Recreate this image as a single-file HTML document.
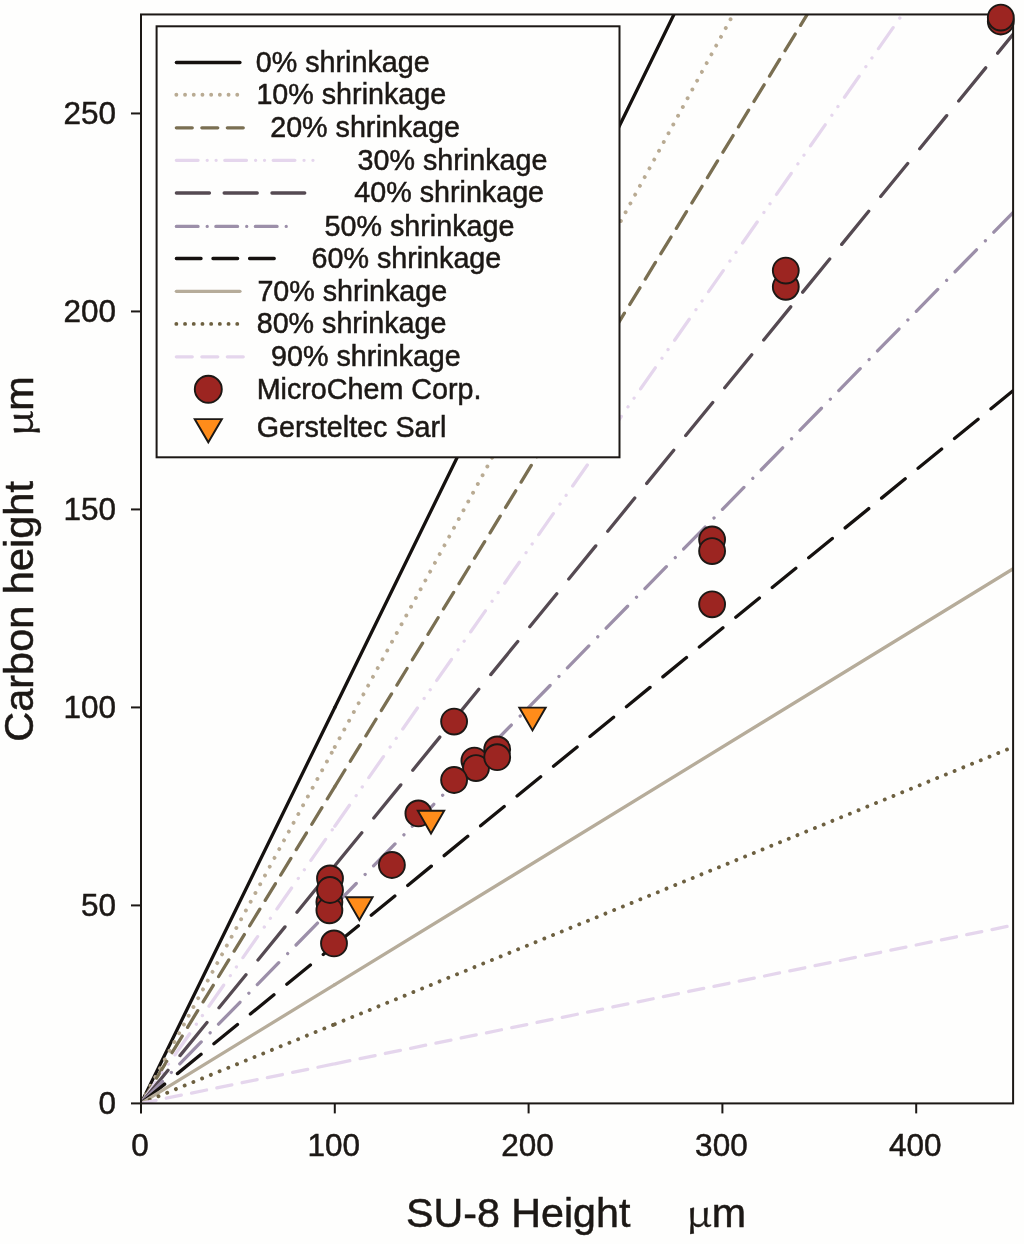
<!DOCTYPE html>
<html lang="en"><head><meta charset="utf-8"><title>Carbon height vs SU-8 height</title>
<style>html,body{margin:0;padding:0;background:#fefefd}body{width:1024px;height:1244px;overflow:hidden}svg{display:block}text{font-family:"Liberation Sans", sans-serif;fill:#1c1815;stroke:#1c1815;stroke-width:0.5px}.mu{font-family:"Noto Serif CJK SC","Liberation Serif",serif;font-size:40px}</style></head><body>
<svg width="1024" height="1244" viewBox="0 0 1024 1244">
<rect width="1024" height="1244" fill="#fefefd"/>
<defs><clipPath id="plot"><rect x="141.00" y="14.45" width="872.10" height="1088.95"/></clipPath></defs>
<g clip-path="url(#plot)" fill="none" stroke-width="3.3" stroke-linecap="round">
<line x1="141.00" y1="1103.40" x2="334.80" y2="707.42" stroke="#15110f"/>
<line x1="334.80" y1="707.42" x2="684.61" y2="-7.33" stroke="#15110f"/>
<line x1="141.00" y1="1103.40" x2="334.80" y2="747.02" stroke="#b9ab93" stroke-width="3.9" stroke-dasharray="0.01 9.97"/>
<line x1="334.80" y1="747.02" x2="745.01" y2="-7.33" stroke="#b9ab93" stroke-width="3.9" stroke-dasharray="0.01 9.97"/>
<line x1="141.00" y1="1103.40" x2="334.80" y2="786.61" stroke="#7a6f52" stroke-dasharray="19.46 10.29"/>
<line x1="334.80" y1="786.61" x2="820.51" y2="-7.33" stroke="#7a6f52" stroke-dasharray="19.46 10.29"/>
<line x1="141.00" y1="1103.40" x2="334.80" y2="826.21" stroke="#e5d6ed" stroke-dasharray="25.60 11.70 0.01 10.60 0.01 11.38"/>
<line x1="334.80" y1="826.21" x2="917.58" y2="-7.33" stroke="#e5d6ed" stroke-dasharray="25.60 11.70 0.01 10.60 0.01 11.38"/>
<line x1="141.00" y1="1103.40" x2="334.80" y2="865.81" stroke="#554a52" stroke-dasharray="42.72 18.97"/>
<line x1="334.80" y1="865.81" x2="1030.54" y2="12.87" stroke="#554a52" stroke-dasharray="42.72 18.97"/>
<line x1="141.00" y1="1103.40" x2="334.80" y2="905.41" stroke="#9c8fa9" stroke-dasharray="30.65 12.73 0.01 12.03"/>
<line x1="334.80" y1="905.41" x2="1030.54" y2="194.62" stroke="#9c8fa9" stroke-dasharray="30.65 12.73 0.01 12.03"/>
<line x1="141.00" y1="1103.40" x2="334.80" y2="945.01" stroke="#15110f" stroke-dasharray="30.48 16.60"/>
<line x1="334.80" y1="945.01" x2="1030.54" y2="376.38" stroke="#15110f" stroke-dasharray="30.48 16.60"/>
<line x1="141.00" y1="1103.40" x2="334.80" y2="984.61" stroke="#b6ac9a"/>
<line x1="334.80" y1="984.61" x2="1030.54" y2="558.13" stroke="#b6ac9a"/>
<line x1="141.00" y1="1103.40" x2="334.80" y2="1024.20" stroke="#6d6040" stroke-width="3.9" stroke-dasharray="0.01 9.42"/>
<line x1="334.80" y1="1024.20" x2="1030.54" y2="739.89" stroke="#6d6040" stroke-width="3.9" stroke-dasharray="0.01 9.42"/>
<line x1="141.00" y1="1103.40" x2="334.80" y2="1063.80" stroke="#e5d6ed" stroke-dasharray="15.31 10.49"/>
<line x1="334.80" y1="1063.80" x2="1030.54" y2="921.64" stroke="#e5d6ed" stroke-dasharray="15.31 10.49"/>
</g>
<rect x="141.00" y="14.45" width="872.10" height="1088.95" fill="none" stroke="#1c1815" stroke-width="2"/>
<g stroke="#1c1815" stroke-width="2">
<line x1="131.00" y1="1103.40" x2="141.00" y2="1103.40"/>
<line x1="131.00" y1="905.41" x2="141.00" y2="905.41"/>
<line x1="131.00" y1="707.42" x2="141.00" y2="707.42"/>
<line x1="131.00" y1="509.43" x2="141.00" y2="509.43"/>
<line x1="131.00" y1="311.44" x2="141.00" y2="311.44"/>
<line x1="131.00" y1="113.45" x2="141.00" y2="113.45"/>
<line x1="141.00" y1="1103.40" x2="141.00" y2="1113.40"/>
<line x1="334.80" y1="1103.40" x2="334.80" y2="1113.40"/>
<line x1="528.60" y1="1103.40" x2="528.60" y2="1113.40"/>
<line x1="722.40" y1="1103.40" x2="722.40" y2="1113.40"/>
<line x1="916.20" y1="1103.40" x2="916.20" y2="1113.40"/>
</g>
<g font-size="31.5">
<text x="116.00" y="1113.60" text-anchor="end">0</text>
<text x="116.00" y="915.61" text-anchor="end">50</text>
<text x="116.00" y="717.62" text-anchor="end">100</text>
<text x="116.00" y="519.63" text-anchor="end">150</text>
<text x="116.00" y="321.64" text-anchor="end">200</text>
<text x="116.00" y="123.65" text-anchor="end">250</text>
<text x="140.00" y="1155.80" text-anchor="middle">0</text>
<text x="333.80" y="1155.80" text-anchor="middle">100</text>
<text x="527.60" y="1155.80" text-anchor="middle">200</text>
<text x="721.40" y="1155.80" text-anchor="middle">300</text>
<text x="915.20" y="1155.80" text-anchor="middle">400</text>
</g>
<text font-size="41.2" x="406" y="1227" xml:space="preserve">SU-8 Height</text>
<text class="mu" transform="translate(686.3,1227) scale(1.03,0.9)">μ</text>
<text font-size="41.2" x="711.7" y="1227">m</text>
<text font-size="41.5" transform="translate(32.6,741.8) rotate(-90)">Carbon height</text>
<text class="mu" transform="translate(32.6,436.2) rotate(-90) scale(1.03,0.9)">μ</text>
<text font-size="41.5" transform="translate(32.6,410.8) rotate(-90)">m</text>
<g fill="#9c2521" stroke="#1c1815" stroke-width="1.9">
<circle cx="1000.8" cy="21.5" r="12.95"/>
<circle cx="1000.8" cy="17.6" r="12.95"/>
<circle cx="785.8" cy="286.8" r="12.95"/>
<circle cx="785.8" cy="270.6" r="12.95"/>
<circle cx="712.1" cy="539.5" r="12.95"/>
<circle cx="712.1" cy="551.1" r="12.95"/>
<circle cx="712.1" cy="604.3" r="12.95"/>
<circle cx="454.1" cy="721.6" r="12.95"/>
<circle cx="497.2" cy="749.4" r="12.95"/>
<circle cx="474.4" cy="760.6" r="12.95"/>
<circle cx="476.0" cy="768.1" r="12.95"/>
<circle cx="497.2" cy="757.2" r="12.95"/>
<circle cx="454.1" cy="780.0" r="12.95"/>
<circle cx="418.4" cy="813.4" r="12.95"/>
<circle cx="391.9" cy="865.0" r="12.95"/>
<circle cx="330.0" cy="878.4" r="12.95"/>
<circle cx="329.4" cy="902.0" r="12.95"/>
<circle cx="329.4" cy="910.3" r="12.95"/>
<circle cx="330.0" cy="890.0" r="12.95"/>
<circle cx="334.0" cy="943.4" r="12.95"/>
</g>
<g fill="#ff8c1a" stroke="#1c1815" stroke-width="1.9" stroke-linejoin="miter">
<polygon points="519.3,707.6 545.7,707.6 532.5,730.4"/>
<polygon points="417.8,810.7 444.2,810.7 431.0,833.5"/>
<polygon points="346.2,897.3 372.6,897.3 359.4,920.1"/>
</g>
<rect x="156.60" y="26.30" width="462.90" height="431.00" fill="#fefefd" stroke="#1c1815" stroke-width="2"/>
<g fill="none" stroke-width="3.3" stroke-linecap="round">
<line x1="176.35" y1="62.50" x2="239.95" y2="62.50" stroke="#15110f"/>
<line x1="176.35" y1="94.80" x2="238.85" y2="94.80" stroke="#b9ab93" stroke-width="3.9" stroke-dasharray="0.01 8.69"/>
<line x1="176.35" y1="127.80" x2="243.35" y2="127.80" stroke="#7a6f52" stroke-dasharray="15.90 9.60"/>
<line x1="176.35" y1="160.30" x2="314.35" y2="160.30" stroke="#e5d6ed" stroke-dasharray="21.70 9.15 0.01 8.90 0.01 8.65"/>
<line x1="176.35" y1="193.00" x2="304.75" y2="193.00" stroke="#554a52" stroke-dasharray="33.10 14.70"/>
<line x1="176.35" y1="226.40" x2="287.35" y2="226.40" stroke="#9c8fa9" stroke-dasharray="21.70 9.15 0.01 8.65"/>
<line x1="176.35" y1="258.50" x2="274.35" y2="258.50" stroke="#15110f" stroke-dasharray="24.70 11.90"/>
<line x1="176.35" y1="291.30" x2="239.95" y2="291.30" stroke="#b6ac9a"/>
<line x1="176.35" y1="323.90" x2="238.85" y2="323.90" stroke="#6d6040" stroke-width="3.9" stroke-dasharray="0.01 8.69"/>
<line x1="176.35" y1="356.80" x2="243.35" y2="356.80" stroke="#e5d6ed" stroke-dasharray="15.90 9.60"/>
</g>
<g font-size="28.7">
<text x="255.80" y="71.70">0% shrinkage</text>
<text x="256.40" y="104.00">10% shrinkage</text>
<text x="270.20" y="137.00">20% shrinkage</text>
<text x="357.60" y="169.50">30% shrinkage</text>
<text x="354.30" y="202.20">40% shrinkage</text>
<text x="324.60" y="235.60">50% shrinkage</text>
<text x="311.50" y="267.70">60% shrinkage</text>
<text x="257.40" y="300.50">70% shrinkage</text>
<text x="256.70" y="333.10">80% shrinkage</text>
<text x="271.00" y="366.00">90% shrinkage</text>
<text x="256.7" y="398.6">MicroChem Corp.</text>
<text x="256.7" y="437.4">Gersteltec Sarl</text>
</g>
<circle cx="208.3" cy="389.3" r="13.5" fill="#9c2521" stroke="#1c1815" stroke-width="1.9"/>
<g fill="#ff8c1a" stroke="#1c1815" stroke-width="1.9"><polygon points="194.7,419.1 221.9,419.1 208.3,442.3"/></g>
</svg></body></html>
